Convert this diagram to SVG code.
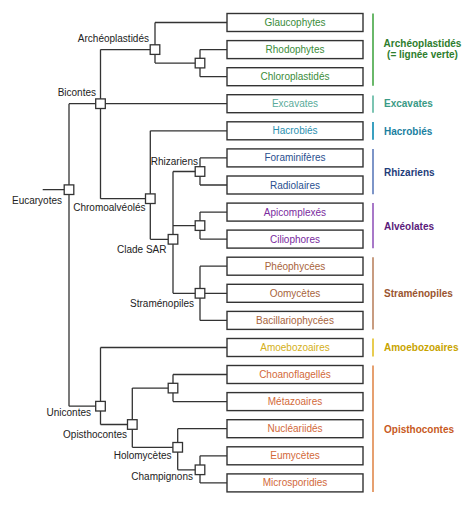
<svg xmlns="http://www.w3.org/2000/svg" width="474" height="506" viewBox="0 0 474 506">
<style>
.ln{stroke:#333;stroke-width:1.3;fill:none}
.nd{fill:#fff;stroke:#333;stroke-width:1.3}
.bx{fill:#fff;stroke:#333;stroke-width:1.4}
.lf{font-family:"Liberation Sans",Arial,sans-serif;font-size:10px;text-anchor:middle}
.cl{font-family:"Liberation Sans",Arial,sans-serif;font-size:10px;text-anchor:end;fill:#222}
.gp{font-family:"Liberation Sans",Arial,sans-serif;font-size:10px;font-weight:bold}
.bar{stroke-width:2}
</style>
<rect width="474" height="506" fill="#fff"/>
<g id="connectors">
<path class="ln" d="M42.7,189.7H69M69,103.7V406.2M69,103.7H100.5M69,406.2H100.5"/>
<path class="ln" d="M100.5,49.6V198.7M100.5,49.6H155M100.5,103.7H227M100.5,198.7H150.3"/>
<path class="ln" d="M155,22.5V63.1M155,22.5H227M155,63.1H200M200,49.6V76.7M200,49.6H227M200,76.7H227"/>
<path class="ln" d="M150.3,130.8V239.3M150.3,130.8H227M150.3,239.3H173"/>
<path class="ln" d="M173,171.5V293.3M173,171.5H200M173,225.6H200M173,293.3H227"/>
<path class="ln" d="M200,157.9V185M200,157.9H227M200,185H227"/>
<path class="ln" d="M200,212.1V239.1M200,212.1H227M200,239.1H227"/>
<path class="ln" d="M200,266.2V320.4M200,266.2H227M200,320.4H227"/>
<path class="ln" d="M100.5,347.5V424.5M100.5,347.5H227M100.5,424.5H132.3"/>
<path class="ln" d="M132.3,388.1V447.3M132.3,388.1H173M132.3,447.3H177.7"/>
<path class="ln" d="M173,374.5V401.6M173,374.5H227M173,401.6H227"/>
<path class="ln" d="M177.7,428.7V469.8M177.7,428.7H227M177.7,469.8H200"/>
<path class="ln" d="M200,455.8V482.9M200,455.8H227M200,482.9H227"/>
</g>
<g id="internal-nodes">
<g id="n-eucaryotes"><rect class="nd" x="64.2" y="184.9" width="9.6" height="9.6"/><text class="cl" x="62" y="204">Eucaryotes</text></g>
<g id="n-bicontes"><rect class="nd" x="95.7" y="98.9" width="9.6" height="9.6"/><text class="cl" x="96" y="95.5">Bicontes</text></g>
<g id="n-archeo"><rect class="nd" x="150.2" y="44.8" width="9.6" height="9.6"/><text class="cl" x="149" y="42">Archéoplastidés</text></g>
<g id="n-rhodochloro"><rect class="nd" x="195.2" y="58.3" width="9.6" height="9.6"/></g>
<g id="n-chromo"><rect class="nd" x="145.5" y="193.9" width="9.6" height="9.6"/><text class="cl" x="145.5" y="211">Chromoalvéolés</text></g>
<g id="n-rhizariens"><rect class="nd" x="195.2" y="166.7" width="9.6" height="9.6"/><text class="cl" x="198" y="164.5">Rhizariens</text></g>
<g id="n-sar"><rect class="nd" x="168.2" y="234.5" width="9.6" height="9.6"/><text class="cl" x="166.5" y="252.5">Clade SAR</text></g>
<g id="n-alveolates"><rect class="nd" x="195.2" y="220.8" width="9.6" height="9.6"/></g>
<g id="n-stramenopiles"><rect class="nd" x="195.2" y="288.5" width="9.6" height="9.6"/><text class="cl" x="194" y="306.5">Straménopiles</text></g>
<g id="n-unicontes"><rect class="nd" x="95.7" y="401.4" width="9.6" height="9.6"/><text class="cl" x="91" y="416">Unicontes</text></g>
<g id="n-opistho"><rect class="nd" x="127.5" y="419.7" width="9.6" height="9.6"/><text class="cl" x="127" y="437.5">Opisthocontes</text></g>
<g id="n-choanometa"><rect class="nd" x="168.2" y="383.3" width="9.6" height="9.6"/></g>
<g id="n-holomycetes"><rect class="nd" x="172.9" y="442.5" width="9.6" height="9.6"/><text class="cl" x="171.5" y="458.5">Holomycètes</text></g>
<g id="n-champignons"><rect class="nd" x="195.2" y="465" width="9.6" height="9.6"/><text class="cl" x="193" y="480">Champignons</text></g>
</g>
<g id="leaves">
<g id="l-glaucophytes"><rect class="bx" x="227" y="13.5" width="136" height="18"/><text class="lf" x="295" y="26" fill="#3a8c3a">Glaucophytes</text></g>
<g id="l-rhodophytes"><rect class="bx" x="227" y="40.6" width="136" height="18"/><text class="lf" x="295" y="53.1" fill="#3a8c3a">Rhodophytes</text></g>
<g id="l-chloroplastides"><rect class="bx" x="227" y="67.7" width="136" height="18"/><text class="lf" x="295" y="80.2" fill="#3a8c3a">Chloroplastidés</text></g>
<g id="l-excavates"><rect class="bx" x="227" y="94.7" width="136" height="18"/><text class="lf" x="295" y="107.2" fill="#5aab9a">Excavates</text></g>
<g id="l-hacrobies"><rect class="bx" x="227" y="121.8" width="136" height="18"/><text class="lf" x="295" y="134.3" fill="#2a90b0">Hacrobiés</text></g>
<g id="l-foraminiferes"><rect class="bx" x="227" y="148.9" width="136" height="18"/><text class="lf" x="295" y="161.4" fill="#2a4f8f">Foraminifères</text></g>
<g id="l-radiolaires"><rect class="bx" x="227" y="176" width="136" height="18"/><text class="lf" x="295" y="188.5" fill="#2a4f8f">Radiolaires</text></g>
<g id="l-apicomplexes"><rect class="bx" x="227" y="203.1" width="136" height="18"/><text class="lf" x="295" y="215.6" fill="#7a2a9e">Apicomplexés</text></g>
<g id="l-ciliophores"><rect class="bx" x="227" y="230.1" width="136" height="18"/><text class="lf" x="295" y="242.6" fill="#7a2a9e">Ciliophores</text></g>
<g id="l-pheophycees"><rect class="bx" x="227" y="257.2" width="136" height="18"/><text class="lf" x="295" y="269.7" fill="#a8643c">Phéophycées</text></g>
<g id="l-oomycetes"><rect class="bx" x="227" y="284.3" width="136" height="18"/><text class="lf" x="295" y="296.8" fill="#a8643c">Oomycètes</text></g>
<g id="l-bacillario"><rect class="bx" x="227" y="311.4" width="136" height="18"/><text class="lf" x="295" y="323.9" fill="#a8643c">Bacillariophycées</text></g>
<g id="l-amoebozoaires"><rect class="bx" x="227" y="338.5" width="136" height="18"/><text class="lf" x="295" y="351" fill="#d4b020">Amoebozoaires</text></g>
<g id="l-choano"><rect class="bx" x="227" y="365.5" width="136" height="18"/><text class="lf" x="295" y="378" fill="#d2693a">Choanoflagellés</text></g>
<g id="l-metazoaires"><rect class="bx" x="227" y="392.6" width="136" height="18"/><text class="lf" x="295" y="405.1" fill="#d2693a">Métazoaires</text></g>
<g id="l-nucleariides"><rect class="bx" x="227" y="419.7" width="136" height="18"/><text class="lf" x="295" y="432.2" fill="#d2693a">Nucléariidés</text></g>
<g id="l-eumycetes"><rect class="bx" x="227" y="446.8" width="136" height="18"/><text class="lf" x="295" y="459.3" fill="#d2693a">Eumycètes</text></g>
<g id="l-microsporidies"><rect class="bx" x="227" y="473.9" width="136" height="18"/><text class="lf" x="295" y="486.4" fill="#d2693a">Microsporidies</text></g>
</g>
<g id="groups">
<g id="g-archeo"><line class="bar" x1="373" y1="13.5" x2="373" y2="85.7" stroke="#6ab86a"/><text class="gp" x="422.5" y="47" text-anchor="middle" fill="#2d7d2d">Archéoplastidés</text><text class="gp" x="422.5" y="58" text-anchor="middle" fill="#2d7d2d">(= lignée verte)</text></g>
<g id="g-excavates"><line class="bar" x1="373" y1="95.5" x2="373" y2="112.7" stroke="#7cc4b2"/><text class="gp" x="384" y="107.3" fill="#3a9a85">Excavates</text></g>
<g id="g-hacrobies"><line class="bar" x1="373" y1="122" x2="373" y2="139.7" stroke="#3aa0c0"/><text class="gp" x="384" y="134.5" fill="#1a7f9f">Hacrobiés</text></g>
<g id="g-rhizariens"><line class="bar" x1="373" y1="148.9" x2="373" y2="194.3" stroke="#7d95c8"/><text class="gp" x="384" y="175.5" fill="#1f3d7a">Rhizariens</text></g>
<g id="g-alveolates"><line class="bar" x1="373" y1="203.1" x2="373" y2="248.3" stroke="#a878c8"/><text class="gp" x="384" y="229.5" fill="#5a1a7a">Alvéolates</text></g>
<g id="g-stramenopiles"><line class="bar" x1="373" y1="257.2" x2="373" y2="329.4" stroke="#c89c80"/><text class="gp" x="384" y="296.5" fill="#9a5530">Straménopiles</text></g>
<g id="g-amoebozoaires"><line class="bar" x1="373" y1="338.5" x2="373" y2="356.5" stroke="#e8cc50"/><text class="gp" x="384" y="351" fill="#c8a400">Amoebozoaires</text></g>
<g id="g-opistho"><line class="bar" x1="373" y1="365.5" x2="373" y2="491.9" stroke="#e6a070"/><text class="gp" x="384" y="432.5" fill="#c85a1e">Opisthocontes</text></g>
</g>
</svg>
